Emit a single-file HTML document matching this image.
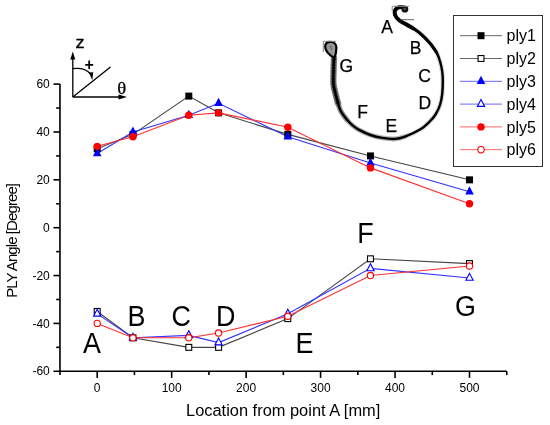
<!DOCTYPE html>
<html><head><meta charset="utf-8"><style>
html,body{margin:0;padding:0;background:#fff;}
svg{display:block;}
</style></head><body>
<svg width="550" height="425" viewBox="0 0 550 425">
<rect width="550" height="425" fill="#fff"/>
<g stroke="#000" stroke-width="1.6" fill="none">
<path d="M59.97,84.12 V371.28 H506.73"/>
<path d="M53.47,371.28 H59.97"/>
<path d="M56.17,347.35 H59.97"/>
<path d="M53.47,323.42 H59.97"/>
<path d="M56.17,299.49 H59.97"/>
<path d="M53.47,275.56 H59.97"/>
<path d="M56.17,251.63 H59.97"/>
<path d="M53.47,227.70 H59.97"/>
<path d="M56.17,203.77 H59.97"/>
<path d="M53.47,179.84 H59.97"/>
<path d="M56.17,155.91 H59.97"/>
<path d="M53.47,131.98 H59.97"/>
<path d="M56.17,108.05 H59.97"/>
<path d="M53.47,84.12 H59.97"/>
<path d="M59.97,371.28 V375.08"/>
<path d="M97.20,371.28 V377.88"/>
<path d="M134.43,371.28 V375.08"/>
<path d="M171.66,371.28 V377.88"/>
<path d="M208.89,371.28 V375.08"/>
<path d="M246.12,371.28 V377.88"/>
<path d="M283.35,371.28 V375.08"/>
<path d="M320.58,371.28 V377.88"/>
<path d="M357.81,371.28 V375.08"/>
<path d="M395.04,371.28 V377.88"/>
<path d="M432.27,371.28 V375.08"/>
<path d="M469.50,371.28 V377.88"/>
<path d="M506.73,371.28 V375.08"/>
</g>
<g font-family="Liberation Sans, Arial, sans-serif" font-size="12" fill="#000">
<text x="49.8" y="375.38" text-anchor="end">-60</text>
<text x="49.8" y="327.52" text-anchor="end">-40</text>
<text x="49.8" y="279.66" text-anchor="end">-20</text>
<text x="49.8" y="231.80" text-anchor="end">0</text>
<text x="49.8" y="183.94" text-anchor="end">20</text>
<text x="49.8" y="136.08" text-anchor="end">40</text>
<text x="49.8" y="88.22" text-anchor="end">60</text>
<text x="97.20" y="391.7" text-anchor="middle">0</text>
<text x="171.66" y="391.7" text-anchor="middle">100</text>
<text x="246.12" y="391.7" text-anchor="middle">200</text>
<text x="320.58" y="391.7" text-anchor="middle">300</text>
<text x="395.04" y="391.7" text-anchor="middle">400</text>
<text x="469.50" y="391.7" text-anchor="middle">500</text>
</g>
<text x="186" y="416.2" font-family="Liberation Sans, Arial, sans-serif" font-size="16" textLength="194.3" lengthAdjust="spacingAndGlyphs">Location from point A [mm]</text>
<text transform="translate(16.7,297.8) rotate(-90)" x="0" y="0" font-family="Liberation Sans, Arial, sans-serif" font-size="15" textLength="114.8" lengthAdjust="spacing">PLY Angle [Degree]</text>
<polyline points="97.20,148.73 132.94,134.37 188.79,96.09 218.57,112.84 287.82,134.37 370.47,155.91 469.50,179.84" fill="none" stroke="#444" stroke-width="1.1"/>
<polyline points="97.20,311.45 132.94,337.78 188.79,347.35 218.57,347.35 287.82,318.63 370.47,258.81 469.50,263.59" fill="none" stroke="#444" stroke-width="1.1"/>
<polyline points="97.20,153.52 132.94,131.98 188.79,115.23 218.57,103.26 287.82,136.77 370.47,163.09 469.50,191.81" fill="none" stroke="#3333ff" stroke-width="1.1"/>
<polyline points="97.20,313.85 132.94,337.78 188.79,335.38 218.57,342.56 287.82,313.85 370.47,268.38 469.50,277.95" fill="none" stroke="#3333ff" stroke-width="1.1"/>
<polyline points="97.20,146.34 132.94,136.77 188.79,115.23 218.57,112.84 287.82,127.19 370.47,167.88 469.50,203.77" fill="none" stroke="#ff3030" stroke-width="1.1"/>
<polyline points="97.20,323.42 132.94,337.78 188.79,337.78 218.57,332.99 287.82,316.24 370.47,275.56 469.50,265.99" fill="none" stroke="#ff3030" stroke-width="1.1"/>
<rect x="93.70" y="145.23" width="7.00" height="7.00" fill="#000" stroke="#000" stroke-width="0"/>
<rect x="129.44" y="130.87" width="7.00" height="7.00" fill="#000" stroke="#000" stroke-width="0"/>
<rect x="185.29" y="92.59" width="7.00" height="7.00" fill="#000" stroke="#000" stroke-width="0"/>
<rect x="215.07" y="109.34" width="7.00" height="7.00" fill="#000" stroke="#000" stroke-width="0"/>
<rect x="284.32" y="130.87" width="7.00" height="7.00" fill="#000" stroke="#000" stroke-width="0"/>
<rect x="366.97" y="152.41" width="7.00" height="7.00" fill="#000" stroke="#000" stroke-width="0"/>
<rect x="466.00" y="176.34" width="7.00" height="7.00" fill="#000" stroke="#000" stroke-width="0"/>
<rect x="94.25" y="308.50" width="5.90" height="5.90" fill="#fff" stroke="#000" stroke-width="1.1"/>
<rect x="129.99" y="334.83" width="5.90" height="5.90" fill="#fff" stroke="#000" stroke-width="1.1"/>
<rect x="185.84" y="344.40" width="5.90" height="5.90" fill="#fff" stroke="#000" stroke-width="1.1"/>
<rect x="215.62" y="344.40" width="5.90" height="5.90" fill="#fff" stroke="#000" stroke-width="1.1"/>
<rect x="284.87" y="315.68" width="5.90" height="5.90" fill="#fff" stroke="#000" stroke-width="1.1"/>
<rect x="367.52" y="255.86" width="5.90" height="5.90" fill="#fff" stroke="#000" stroke-width="1.1"/>
<rect x="466.55" y="260.64" width="5.90" height="5.90" fill="#fff" stroke="#000" stroke-width="1.1"/>
<polygon points="97.20,148.07 92.90,156.24 101.50,156.24" fill="#00f" stroke="#00f" stroke-width="0" stroke-linejoin="miter"/>
<polygon points="132.94,126.53 128.64,134.70 137.24,134.70" fill="#00f" stroke="#00f" stroke-width="0" stroke-linejoin="miter"/>
<polygon points="188.79,109.78 184.49,117.95 193.09,117.95" fill="#00f" stroke="#00f" stroke-width="0" stroke-linejoin="miter"/>
<polygon points="218.57,97.82 214.27,105.99 222.87,105.99" fill="#00f" stroke="#00f" stroke-width="0" stroke-linejoin="miter"/>
<polygon points="287.82,131.32 283.52,139.49 292.12,139.49" fill="#00f" stroke="#00f" stroke-width="0" stroke-linejoin="miter"/>
<polygon points="370.47,157.64 366.17,165.81 374.77,165.81" fill="#00f" stroke="#00f" stroke-width="0" stroke-linejoin="miter"/>
<polygon points="469.50,186.36 465.20,194.53 473.80,194.53" fill="#00f" stroke="#00f" stroke-width="0" stroke-linejoin="miter"/>
<polygon points="97.20,309.24 93.56,316.15 100.84,316.15" fill="#fff" stroke="#00f" stroke-width="1.1" stroke-linejoin="miter"/>
<polygon points="132.94,333.17 129.30,340.08 136.58,340.08" fill="#fff" stroke="#00f" stroke-width="1.1" stroke-linejoin="miter"/>
<polygon points="188.79,330.77 185.15,337.69 192.43,337.69" fill="#fff" stroke="#00f" stroke-width="1.1" stroke-linejoin="miter"/>
<polygon points="218.57,337.95 214.93,344.87 222.21,344.87" fill="#fff" stroke="#00f" stroke-width="1.1" stroke-linejoin="miter"/>
<polygon points="287.82,309.24 284.18,316.15 291.46,316.15" fill="#fff" stroke="#00f" stroke-width="1.1" stroke-linejoin="miter"/>
<polygon points="370.47,263.77 366.83,270.69 374.11,270.69" fill="#fff" stroke="#00f" stroke-width="1.1" stroke-linejoin="miter"/>
<polygon points="469.50,273.34 465.86,280.26 473.14,280.26" fill="#fff" stroke="#00f" stroke-width="1.1" stroke-linejoin="miter"/>
<circle cx="97.20" cy="146.34" r="3.70" fill="#f00" stroke="#f00" stroke-width="0"/>
<circle cx="132.94" cy="136.77" r="3.70" fill="#f00" stroke="#f00" stroke-width="0"/>
<circle cx="188.79" cy="115.23" r="3.70" fill="#f00" stroke="#f00" stroke-width="0"/>
<circle cx="218.57" cy="112.84" r="3.70" fill="#f00" stroke="#f00" stroke-width="0"/>
<circle cx="287.82" cy="127.19" r="3.70" fill="#f00" stroke="#f00" stroke-width="0"/>
<circle cx="370.47" cy="167.88" r="3.70" fill="#f00" stroke="#f00" stroke-width="0"/>
<circle cx="469.50" cy="203.77" r="3.70" fill="#f00" stroke="#f00" stroke-width="0"/>
<circle cx="97.20" cy="323.42" r="3.15" fill="#fff" stroke="#f00" stroke-width="1.1"/>
<circle cx="132.94" cy="337.78" r="3.15" fill="#fff" stroke="#f00" stroke-width="1.1"/>
<circle cx="188.79" cy="337.78" r="3.15" fill="#fff" stroke="#f00" stroke-width="1.1"/>
<circle cx="218.57" cy="332.99" r="3.15" fill="#fff" stroke="#f00" stroke-width="1.1"/>
<circle cx="287.82" cy="316.24" r="3.15" fill="#fff" stroke="#f00" stroke-width="1.1"/>
<circle cx="370.47" cy="275.56" r="3.15" fill="#fff" stroke="#f00" stroke-width="1.1"/>
<circle cx="469.50" cy="265.99" r="3.15" fill="#fff" stroke="#f00" stroke-width="1.1"/>
<g font-family="Liberation Sans, Arial, sans-serif" font-size="28.6" fill="#000">
<text transform="translate(82.90,352.50) scale(0.94,1)">A</text>
<text transform="translate(127.40,325.60) scale(0.94,1)">B</text>
<text transform="translate(171.60,325.80) scale(0.94,1)">C</text>
<text transform="translate(215.90,325.50) scale(0.94,1)">D</text>
<text transform="translate(295.50,353.00) scale(0.94,1)">E</text>
<text transform="translate(357.20,243.10) scale(0.94,1)">F</text>
<text transform="translate(455.10,316.40) scale(0.94,1)">G</text>
</g>
<rect x="453.5" y="15.5" width="89" height="151" fill="#fff" stroke="#333" stroke-width="1"/>
<path d="M460,35.70 H502" stroke="#000" stroke-width="1" opacity="0.6"/>
<rect x="477.50" y="32.20" width="7.00" height="7.00" fill="#000" stroke="#000" stroke-width="0"/>
<text x="506.5" y="41.40" font-family="Liberation Sans, Arial, sans-serif" font-size="16">ply1</text>
<path d="M460,58.50 H502" stroke="#000" stroke-width="1" opacity="0.6"/>
<rect x="478.05" y="55.55" width="5.90" height="5.90" fill="#fff" stroke="#000" stroke-width="1.1"/>
<text x="506.5" y="64.20" font-family="Liberation Sans, Arial, sans-serif" font-size="16">ply2</text>
<path d="M460,81.30 H502" stroke="#00f" stroke-width="1" opacity="0.6"/>
<polygon points="481.00,75.85 476.70,84.02 485.30,84.02" fill="#00f" stroke="#00f" stroke-width="0" stroke-linejoin="miter"/>
<text x="506.5" y="87.00" font-family="Liberation Sans, Arial, sans-serif" font-size="16">ply3</text>
<path d="M460,104.10 H502" stroke="#00f" stroke-width="1" opacity="0.6"/>
<polygon points="481.00,99.49 477.36,106.41 484.64,106.41" fill="#fff" stroke="#00f" stroke-width="1.1" stroke-linejoin="miter"/>
<text x="506.5" y="109.80" font-family="Liberation Sans, Arial, sans-serif" font-size="16">ply4</text>
<path d="M460,126.90 H502" stroke="#f00" stroke-width="1" opacity="0.6"/>
<circle cx="481.00" cy="126.90" r="3.70" fill="#f00" stroke="#f00" stroke-width="0"/>
<text x="506.5" y="132.60" font-family="Liberation Sans, Arial, sans-serif" font-size="16">ply5</text>
<path d="M460,149.70 H502" stroke="#f00" stroke-width="1" opacity="0.6"/>
<circle cx="481.00" cy="149.70" r="3.15" fill="#fff" stroke="#f00" stroke-width="1.1"/>
<text x="506.5" y="155.40" font-family="Liberation Sans, Arial, sans-serif" font-size="16">ply6</text>
<g stroke="#000" stroke-width="1.3" fill="none">
<path d="M72.8,97 V57"/>
<path d="M72.8,97 H120"/>
<path d="M72.8,97 L110.5,67.1"/>
<path d="M72.8,68.6 C80,67.6 86.5,69.2 90.5,74"/>
</g>
<polygon points="72.8,51.6 70.3,59.5 75.3,59.5" fill="#000"/>
<polygon points="127,97 118.5,94.5 118.5,99.5" fill="#000"/>
<polygon points="92.3,80.2 88.9,72.6 93.3,72.3" fill="#000"/>
<text transform="translate(75.4,48.4) scale(1.1,1)" font-family="Liberation Sans, Arial, sans-serif" font-size="16.5" stroke="#000" stroke-width="0.3">z</text>
<text x="84.4" y="70.2" font-family="Liberation Sans, Arial, sans-serif" font-size="16" font-weight="bold">+</text>
<text transform="translate(117.2,94.2) scale(1.1,1)" font-family="Liberation Serif, serif" font-size="17" stroke="#000" stroke-width="0.3">θ</text>
<path d="M404.00,7.50 C403.17,7.47 400.37,7.02 399.00,7.30 C397.63,7.58 396.53,8.32 395.80,9.20 C395.07,10.08 394.48,11.22 394.60,12.60 C394.72,13.98 395.48,16.05 396.50,17.50 C397.52,18.95 399.03,20.13 400.70,21.30 C402.37,22.47 404.45,23.33 406.50,24.50 C408.55,25.67 410.63,26.75 413.00,28.30 C415.37,29.85 417.87,31.32 420.70,33.80 C423.53,36.28 427.33,40.07 430.00,43.20 C432.67,46.33 435.00,49.47 436.70,52.60 C438.40,55.73 439.28,58.87 440.20,62.00 C441.12,65.13 441.77,68.23 442.20,71.40 C442.63,74.57 442.80,77.23 442.80,81.00 C442.80,84.77 442.67,90.00 442.20,94.00 C441.73,98.00 441.12,101.58 440.00,105.00 C438.88,108.42 437.17,111.80 435.50,114.50 C433.83,117.20 432.58,118.68 430.00,121.20 C427.42,123.72 424.17,127.03 420.00,129.60 C415.83,132.17 409.17,135.05 405.00,136.60 C400.83,138.15 398.78,138.68 395.00,138.90 C391.22,139.12 386.38,138.55 382.30,137.90 C378.22,137.25 374.45,136.38 370.50,135.00 C366.55,133.62 361.57,131.18 358.60,129.60 C355.63,128.02 354.67,127.17 352.70,125.50 C350.73,123.83 348.77,121.97 346.80,119.60 C344.83,117.23 342.37,114.03 340.90,111.30 C339.43,108.57 338.90,106.12 338.00,103.20 C337.10,100.28 336.25,96.93 335.50,93.80 C334.75,90.67 333.83,88.03 333.50,84.40 C333.17,80.77 333.42,76.40 333.50,72.00 C333.58,67.60 333.92,60.33 334.00,58.00" fill="none" stroke="#aaa" stroke-width="4.6" stroke-linecap="round" opacity="0.45"/>
<path d="M405.00,136.60 C403.33,136.98 398.78,138.68 395.00,138.90 C391.22,139.12 386.38,138.55 382.30,137.90 C378.22,137.25 374.45,136.38 370.50,135.00 C366.55,133.62 361.57,131.18 358.60,129.60 C355.63,128.02 354.67,127.17 352.70,125.50 C350.73,123.83 348.77,121.97 346.80,119.60 C344.83,117.23 342.37,114.03 340.90,111.30 C339.43,108.57 338.90,106.12 338.00,103.20 C337.10,100.28 336.25,96.93 335.50,93.80 C334.75,90.67 333.83,88.03 333.50,84.40 C333.17,80.77 333.42,76.40 333.50,72.00 C333.58,67.60 333.92,60.33 334.00,58.00" fill="none" stroke="#888" stroke-width="5" stroke-linecap="round" opacity="0.45"/>
<path d="M346.80,119.60 C345.82,118.22 342.37,114.03 340.90,111.30 C339.43,108.57 338.90,106.12 338.00,103.20 C337.10,100.28 336.25,96.93 335.50,93.80 C334.75,90.67 333.83,88.03 333.50,84.40 C333.17,80.77 333.42,76.40 333.50,72.00 C333.58,67.60 333.92,60.33 334.00,58.00" fill="none" stroke="#777" stroke-width="5.4" stroke-linecap="round" opacity="0.5"/>
<path d="M338.00,103.20 C337.58,101.63 336.25,96.93 335.50,93.80 C334.75,90.67 333.83,88.03 333.50,84.40 C333.17,80.77 333.42,76.40 333.50,72.00 C333.58,67.60 333.92,60.33 334.00,58.00" fill="none" stroke="#666" stroke-width="6.4" stroke-linecap="round" opacity="0.75"/>
<path d="M338.00,103.20 C337.58,101.63 336.25,96.93 335.50,93.80 C334.75,90.67 333.83,88.03 333.50,84.40 C333.17,80.77 333.42,76.40 333.50,72.00 C333.58,67.60 333.92,60.33 334.00,58.00" fill="none" stroke="#000" stroke-width="4" stroke-dasharray="1.5 1.2" opacity="0.6"/>
<path d="M404.00,7.50 C403.17,7.47 400.37,7.02 399.00,7.30 C397.63,7.58 396.53,8.32 395.80,9.20 C395.07,10.08 394.48,11.22 394.60,12.60 C394.72,13.98 395.48,16.05 396.50,17.50 C397.52,18.95 399.03,20.13 400.70,21.30 C402.37,22.47 404.45,23.33 406.50,24.50 C408.55,25.67 410.63,26.75 413.00,28.30 C415.37,29.85 417.87,31.32 420.70,33.80 C423.53,36.28 427.33,40.07 430.00,43.20 C432.67,46.33 435.00,49.47 436.70,52.60 C438.40,55.73 439.28,58.87 440.20,62.00 C441.12,65.13 441.77,68.23 442.20,71.40 C442.63,74.57 442.80,77.23 442.80,81.00 C442.80,84.77 442.67,90.00 442.20,94.00 C441.73,98.00 441.12,101.58 440.00,105.00 C438.88,108.42 437.17,111.80 435.50,114.50 C433.83,117.20 432.58,118.68 430.00,121.20 C427.42,123.72 424.17,127.03 420.00,129.60 C415.83,132.17 409.17,135.05 405.00,136.60 C400.83,138.15 398.78,138.68 395.00,138.90 C391.22,139.12 386.38,138.55 382.30,137.90 C378.22,137.25 374.45,136.38 370.50,135.00 C366.55,133.62 361.57,131.18 358.60,129.60 C355.63,128.02 354.67,127.17 352.70,125.50 C350.73,123.83 348.77,121.97 346.80,119.60 C344.83,117.23 342.37,114.03 340.90,111.30 C339.43,108.57 338.90,106.12 338.00,103.20 C337.10,100.28 336.25,96.93 335.50,93.80 C334.75,90.67 333.83,88.03 333.50,84.40 C333.17,80.77 333.42,76.40 333.50,72.00 C333.58,67.60 333.92,60.33 334.00,58.00" fill="none" stroke="#000" stroke-width="2.4" stroke-linecap="round"/>
<path d="M404.00,7.50 C403.17,7.47 400.37,7.02 399.00,7.30 C397.63,7.58 396.53,8.32 395.80,9.20 C395.07,10.08 394.48,11.22 394.60,12.60 C394.72,13.98 395.48,16.05 396.50,17.50 C397.52,18.95 399.03,20.13 400.70,21.30 C402.37,22.47 404.45,23.33 406.50,24.50 C408.55,25.67 410.63,26.75 413.00,28.30 C415.37,29.85 417.87,31.32 420.70,33.80 C423.53,36.28 427.33,40.07 430.00,43.20 C432.67,46.33 435.58,51.03 436.70,52.60" fill="none" stroke="#000" stroke-width="3.0" stroke-linecap="round"/>
<path d="M404.00,7.50 C403.17,7.47 400.37,7.02 399.00,7.30 C397.63,7.58 396.53,8.32 395.80,9.20 C395.07,10.08 394.48,11.22 394.60,12.60 C394.72,13.98 395.48,16.05 396.50,17.50 C397.52,18.95 399.03,20.13 400.70,21.30 C402.37,22.47 404.45,23.33 406.50,24.50 C408.55,25.67 411.92,27.67 413.00,28.30" fill="none" stroke="#000" stroke-width="3.8" stroke-linecap="round"/>
<circle cx="404.9" cy="9.2" r="3.4" fill="#111"/>
<circle cx="404.6" cy="9.0" r="1.2" fill="#555"/>
<path d="M334.5,58 C330,55.5 325.2,52 325.2,46.5 C325.2,43.2 327.6,41.9 330.5,41.9 C334,41.9 336.4,44.2 336.4,47.8 C336.4,51.5 335.6,55 334.5,58 Z" fill="#999" stroke="#000" stroke-width="2.2"/>
<path d="M329,46 C330,44.5 332,45 332.5,47 C333,49.5 332,51 331,50.5 Z" fill="#666" opacity="0.6"/>
<path d="M392.2,11.2 V6.3 H409.2" fill="none" stroke="#888" stroke-width="1"/>
<path d="M323.3,52.2 V41.3 H336" fill="none" stroke="#888" stroke-width="1"/>
<path d="M400.7,19.7 H414.1" stroke="#666" stroke-width="1"/>
<g font-family="Liberation Sans, Arial, sans-serif" font-size="17.5" fill="#000" stroke="#000" stroke-width="0.25">
<text x="381.30" y="32.50">A</text>
<text x="409.70" y="53.70">B</text>
<text x="418.30" y="81.80">C</text>
<text x="418.60" y="109.00">D</text>
<text x="385.50" y="131.90">E</text>
<text x="357.30" y="117.70">F</text>
<text x="339.40" y="71.70">G</text>
</g>
</svg>
</body></html>
